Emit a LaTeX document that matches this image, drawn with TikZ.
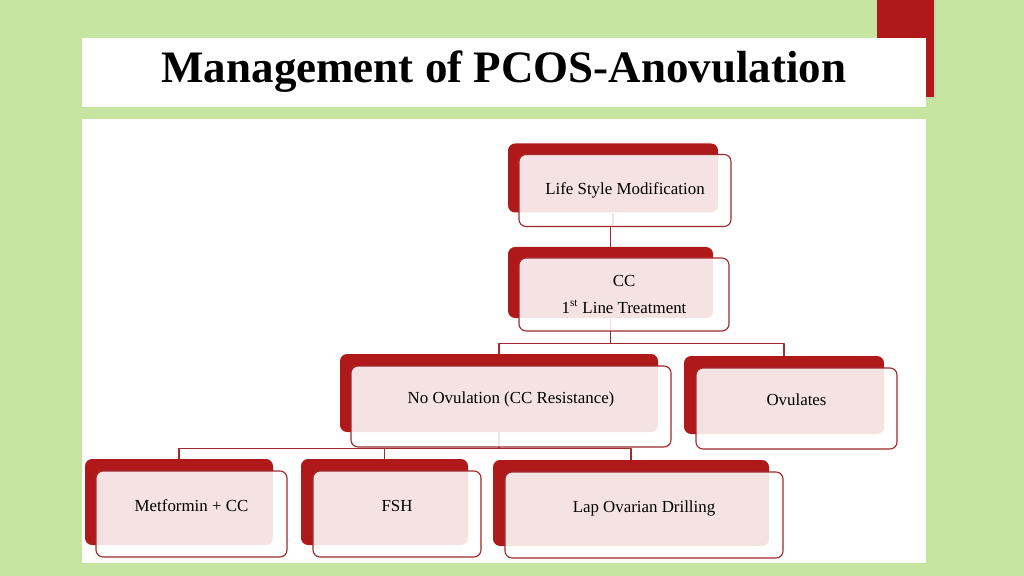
\documentclass[tikz,border=0pt]{standalone}
\usepackage{fontspec}
\setmainfont{Liberation Serif}
\usetikzlibrary{positioning, calc}

\definecolor{slidegreen}{HTML}{C5E5A0}
\definecolor{boxred}{HTML}{B0191A}
\definecolor{edgered}{HTML}{A02A2E}
\def\px{0.025cm}

\tikzset{
  backbox/.style={fill=boxred, draw=none, rounded corners=5pt, inner sep=0pt},
  frontbox/.style={fill=white, fill opacity=0.88, text opacity=1, draw=edgered,
    line width=0.8pt, rounded corners=5pt, inner sep=0pt, align=center,
    font=\fontsize{12}{14.5}\selectfont},
  raised/.style={text depth=12pt},
  link/.style={draw=edgered, line width=0.8pt}
}

\begin{document}
\begin{tikzpicture}[x=0.025cm, y=-0.025cm, line join=round]
      \useasboundingbox (0,0) rectangle (1024,576);
      % slide background
      \fill[slidegreen] (0,0) rectangle (1024,576);
      \fill[black!25, opacity=0.4] (880,0) rectangle (936,99);
      \fill[boxred] (877,0) rectangle (934,97);
      \fill[white] (82,38) rectangle (926,107);
      \fill[white] (82,119) rectangle (926,563);
      \node[font=\fontsize{32}{36}\selectfont\bfseries] (title) at (504,72)
        {Management of PCOS-Anovulation};

      % back boxes
      \node[backbox, minimum width=210*\px, minimum height=69*\px] (lifeB) at (613,178) {};
      \node[backbox, minimum width=205*\px, minimum height=71*\px] (ccB) at (610.5,282.5) {};
      \node[backbox, minimum width=318*\px, minimum height=78*\px] (noB) at (499,393) {};
      \node[backbox, minimum width=200*\px, minimum height=78*\px] (ovB) at (784,395) {};
      \node[backbox, minimum width=188*\px, minimum height=86*\px] (metB) at (179,502) {};
      \node[backbox, minimum width=167*\px, minimum height=86*\px] (fshB) at (384.5,502) {};
      \node[backbox, minimum width=276*\px, minimum height=86*\px] (lapB) at (631,503) {};

      % connectors
      \draw[link] (lifeB.south) -- ++(0,12) -| (ccB.north);
      \draw[link] (ccB.south) -- ++(0,25) coordinate (ccJ);
      \draw[link] (ccJ) -| (noB.north);
      \draw[link] (ccJ) -| (ovB.north);
      \draw[link] (noB.south) -- ++(0,16) coordinate (noJ);
      \draw[link] (noJ) -| (metB.north);
      \draw[link] (noJ) -| (fshB.north);
      \draw[link] (noJ) -| (lapB.north);

      % front boxes
      \node[frontbox, minimum width=212*\px, minimum height=72*\px] (lifeF) at (625,190.5)
        {Life Style Modification};
      \node[frontbox, minimum width=210*\px, minimum height=73*\px] (ccF) at (624,294.5)
        {CC\\[4pt]1\textsuperscript{st} Line Treatment};
      \node[frontbox, raised, minimum width=320*\px, minimum height=81*\px] (noF) at (511,406.5)
        {No Ovulation (CC Resistance)};
      \node[frontbox, raised, minimum width=201*\px, minimum height=81*\px] (ovF) at (796.5,408.5)
        {Ovulates};
      \node[frontbox, raised, minimum width=191*\px, minimum height=86*\px] (metF) at (191.5,514)
        {Metformin + CC};
      \node[frontbox, raised, minimum width=168*\px, minimum height=86*\px] (fshF) at (397,514)
        {FSH};
      \node[frontbox, raised, minimum width=278*\px, minimum height=86*\px] (lapF) at (644,515)
        {Lap Ovarian Drilling};
    \end{tikzpicture}
\end{document}
